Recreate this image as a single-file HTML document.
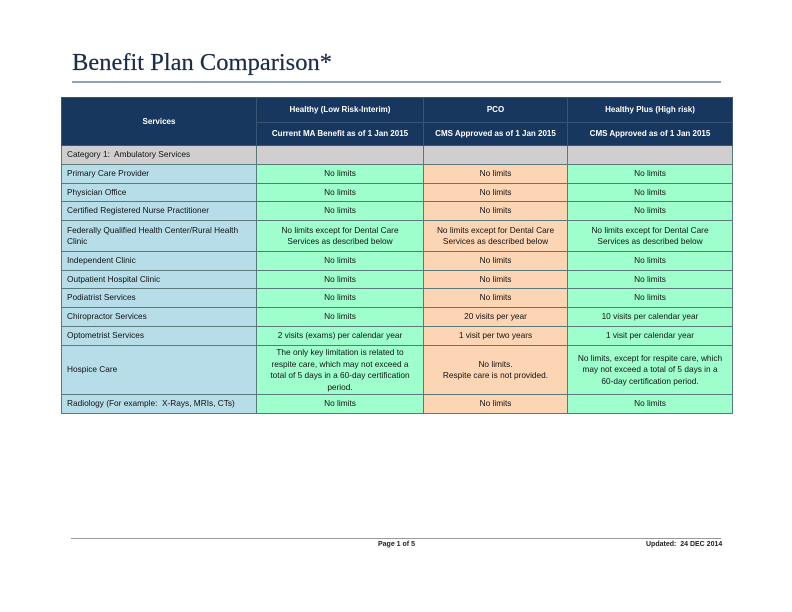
<!DOCTYPE html>
<html><head><meta charset="utf-8"><style>
body{margin:0;width:792px;height:612px;background:#fff;position:relative;font-family:"Liberation Sans",sans-serif;overflow:hidden}
.title{position:absolute;left:72px;top:49px;font-family:"Liberation Serif",serif;font-size:24.5px;color:#1b2d4a;white-space:nowrap;-webkit-text-stroke:0.2px #1b2d4a}
.hr{position:absolute;left:72px;top:81px;width:649px;height:2px;background:#8ea4bd}
table{position:absolute;left:61px;top:97px;border-collapse:collapse;table-layout:fixed;width:671px}
td{border:1px solid #5a7a7a;font-size:8.3px;color:#111;text-align:center;padding:0 3px;line-height:11.5px;overflow:hidden}
.h td{background:#17375e;color:#fff;border-color:#3a5677;font-weight:bold;font-size:8px}
.s{background:#b6dde8;text-align:left;padding-left:5px}
.g{background:#9effcc}
.p{background:#fcd5b4}
.w td.g,.w td.p{padding:0 9px}
.c td{background:#d0cecf}
.f1{position:absolute;left:71px;top:538px;width:650px;height:1px;background:#999}
.ft{position:absolute;top:541px;font-size:7px;font-weight:bold;color:#222}
</style></head><body>
<div class="title">Benefit Plan Comparison*</div>
<div class="hr"></div>
<table>
<colgroup><col style="width:195px"><col style="width:167px"><col style="width:144px"><col style="width:165px"></colgroup>
<tr class="h" style="height:25px"><td rowspan="2">Services</td><td>Healthy (Low Risk-Interim)</td><td>PCO</td><td>Healthy Plus (High risk)</td></tr>
<tr class="h" style="height:23px"><td>Current MA Benefit as of 1 Jan 2015</td><td>CMS Approved as of 1 Jan 2015</td><td>CMS Approved as of 1 Jan 2015</td></tr>
<tr class="c" style="height:19px"><td style="text-align:left;padding-left:5px">Category 1:&nbsp; Ambulatory Services</td><td></td><td></td><td></td></tr>
<tr style="height:19px"><td class="s">Primary Care Provider</td><td class="g">No limits</td><td class="p">No limits</td><td class="g">No limits</td></tr>
<tr style="height:18px"><td class="s">Physician Office</td><td class="g">No limits</td><td class="p">No limits</td><td class="g">No limits</td></tr>
<tr style="height:19px"><td class="s">Certified Registered Nurse Practitioner</td><td class="g">No limits</td><td class="p">No limits</td><td class="g">No limits</td></tr>
<tr class="w" style="height:31px"><td class="s">Federally Qualified Health Center/Rural Health Clinic</td><td class="g">No limits except for Dental Care Services as described below</td><td class="p">No limits except for Dental Care Services as described below</td><td class="g">No limits except for Dental Care Services as described below</td></tr>
<tr style="height:19px"><td class="s">Independent Clinic</td><td class="g">No limits</td><td class="p">No limits</td><td class="g">No limits</td></tr>
<tr style="height:18px"><td class="s">Outpatient Hospital Clinic</td><td class="g">No limits</td><td class="p">No limits</td><td class="g">No limits</td></tr>
<tr style="height:19px"><td class="s">Podiatrist Services</td><td class="g">No limits</td><td class="p">No limits</td><td class="g">No limits</td></tr>
<tr style="height:19px"><td class="s">Chiropractor Services</td><td class="g">No limits</td><td class="p">20 visits per year</td><td class="g">10 visits per calendar year</td></tr>
<tr style="height:19px"><td class="s">Optometrist Services</td><td class="g">2 visits (exams) per calendar year</td><td class="p">1 visit per two years</td><td class="g">1 visit per calendar year</td></tr>
<tr class="w" style="height:49px"><td class="s">Hospice Care</td><td class="g">The only key limitation is related to respite care, which may not exceed a total of 5 days in a 60-day certification period.</td><td class="p">No limits.<br>Respite care is not provided.</td><td class="g">No limits, except for respite care, which may not exceed a total of 5 days in a 60-day certification period.</td></tr>
<tr style="height:19px"><td class="s">Radiology (For example:&nbsp; X-Rays, MRIs, CTs)</td><td class="g">No limits</td><td class="p">No limits</td><td class="g">No limits</td></tr>
</table>
<div class="f1"></div>
<div class="ft" style="left:378px">Page 1 of 5</div>
<div class="ft" style="left:646px">Updated:&nbsp; 24 DEC 2014</div>
</body></html>
